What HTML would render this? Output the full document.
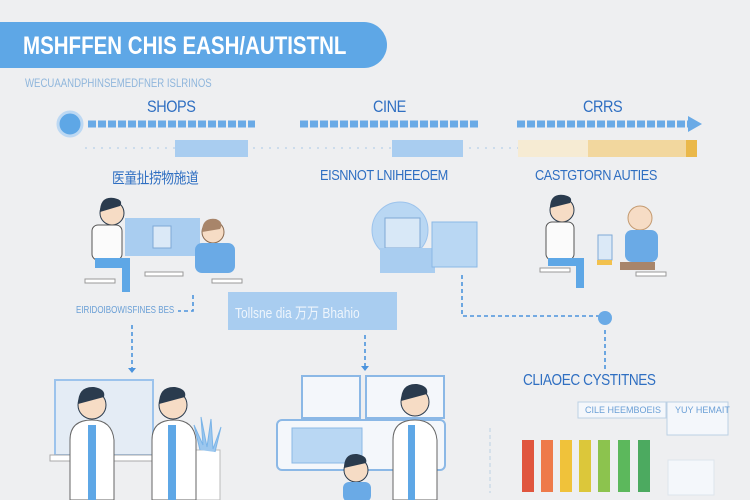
<!DOCTYPE html>
<html><head><meta charset="utf-8"><style>
body{margin:0;width:750px;height:500px;overflow:hidden;background:#eeeff1;font-family:"Liberation Sans","Noto Sans CJK SC",sans-serif;position:relative}
.a{position:absolute;white-space:nowrap}
.h{color:#2f6fc2;font-size:17px;letter-spacing:-0.5px;transform:scaleX(.85);transform-origin:left}
</style></head><body>
<div class="a" style="left:0;top:22px;width:387px;height:46px;background:#5ea7e6;border-radius:0 23px 23px 0"></div>
<div class="a" style="left:23px;top:32px;color:#fff;font-size:25px;font-weight:bold;transform:scaleX(.82);transform-origin:left">MSHFFEN CHIS EASH/AUTISTNL</div>
<div class="a" style="left:25px;top:76px;color:#8fb6dc;font-size:12px;transform:scaleX(.8);transform-origin:left">WECUAANDPHINSEMEDFNER ISLRINOS</div>
<div class="a h" style="left:147px;top:97px">SHOPS</div>
<div class="a h" style="left:373px;top:97px">CINE</div>
<div class="a h" style="left:583px;top:97px">CRRS</div>
<div class="a h" style="left:112px;top:167px;font-size:15px">医童扯捞物施道</div>
<div class="a h" style="left:320px;top:167px;font-size:15px">EISNNOT LNIHEEOEM</div>
<div class="a h" style="left:535px;top:167px;font-size:15px">CASTGTORN AUTIES</div>
<div class="a" style="left:76px;top:305px;color:#6a9fd6;font-size:10px;transform:scaleX(.8);transform-origin:left">EIRIDOIBOWISFINES BES</div>
<div class="a" style="left:228px;top:292px;width:169px;height:38px;background:#a9cdf0"></div>
<div class="a" style="left:235px;top:302px;color:#eef5fc;font-size:15px;transform:scaleX(.8);transform-origin:left">Tollsne dia 万万 Bhahio</div>
<div class="a h" style="left:523px;top:372px;font-size:16px">CLIAOEC CYSTITNES</div>
<svg class="a" style="left:0;top:0" width="750" height="500">
<g fill="none">
<circle cx="70" cy="124" r="12" fill="#5ea7e6" stroke="#bcd8f3" stroke-width="3"/>
<line x1="88" y1="124" x2="255" y2="124" stroke="#6aaae6" stroke-width="7" stroke-dasharray="8 2"/>
<line x1="300" y1="124" x2="478" y2="124" stroke="#6aaae6" stroke-width="7" stroke-dasharray="8 2"/>
<line x1="517" y1="124" x2="690" y2="124" stroke="#6aaae6" stroke-width="7" stroke-dasharray="8 2"/>
<polygon points="688,116 702,124 688,132" fill="#6aaae6"/>
<line x1="85" y1="148" x2="520" y2="148" stroke="#a9c8e8" stroke-width="1" stroke-dasharray="2 6"/>
<rect x="175" y="140" width="73" height="17" fill="#a9cdf0"/>
<rect x="392" y="140" width="71" height="17" fill="#a9cdf0"/>
<rect x="518" y="140" width="70" height="17" fill="#f6ebd3"/>
<rect x="588" y="140" width="109" height="17" fill="#f2d79e"/>
<rect x="686" y="140" width="11" height="17" fill="#eab84a"/>
<g stroke="#4b93dd" stroke-width="1.6" stroke-dasharray="4 3">
<path d="M193 295V311H178"/><path d="M132 325V370"/><path d="M365 335V368"/>
<path d="M462 275V316H600"/><path d="M605 330V372"/>
</g>
<circle cx="605" cy="318" r="7" fill="#6aaae6"/>
<path d="M128 368l4 5 4-5zM361 366l4 5 4-5z" fill="#4b93dd"/>
<!-- scene left top -->
<rect x="125" y="218" width="75" height="38" fill="#a9cdf0"/>
<rect x="153" y="226" width="18" height="22" fill="#dbe9f7" stroke="#7fa9d6"/>
<rect x="85" y="279" width="30" height="4" fill="#fff" stroke="#999"/>
<rect x="145" y="272" width="38" height="4" fill="#fff" stroke="#999"/>
<rect x="212" y="279" width="30" height="4" fill="#fff" stroke="#999"/>
<circle cx="112" cy="213" r="12" fill="#f6dcc5" stroke="#2a3b4e"/>
<path d="M100 212q0-16 14-14 10 2 6 8" fill="#2a3b4e"/>
<rect x="92" y="225" width="30" height="35" rx="6" fill="#fbfbfb" stroke="#555"/>
<rect x="95" y="258" width="35" height="10" fill="#5ea7e6"/>
<rect x="122" y="262" width="8" height="30" fill="#5ea7e6"/>
<circle cx="213" cy="232" r="11" fill="#f6dcc5" stroke="#8a6a50"/>
<path d="M202 232q0-15 14-13 8 3 4 10" fill="#a8856a"/>
<rect x="195" y="243" width="40" height="30" rx="7" fill="#6aaae6"/>
<!-- center top machine -->
<circle cx="400" cy="230" r="28" fill="#b9d7f3" stroke="#9cc3ec"/>
<rect x="385" y="218" width="35" height="30" fill="#d8e8f7" stroke="#7fa9d6"/>
<rect x="380" y="248" width="55" height="25" fill="#a9cdf0"/>
<rect x="432" y="222" width="45" height="45" fill="#b9d7f3" stroke="#8bb8e6"/>
<!-- right top scene -->
<rect x="540" y="268" width="30" height="4" fill="#fff" stroke="#999"/>
<rect x="636" y="272" width="30" height="4" fill="#fff" stroke="#999"/>
<circle cx="562" cy="210" r="12" fill="#f6dcc5" stroke="#2a3b4e"/>
<path d="M550 208q0-15 14-13 10 2 6 8" fill="#2a3b4e"/>
<rect x="546" y="222" width="28" height="38" rx="6" fill="#fbfbfb" stroke="#555"/>
<rect x="548" y="258" width="36" height="8" fill="#5ea7e6"/>
<rect x="576" y="260" width="8" height="28" fill="#5ea7e6"/>
<circle cx="640" cy="218" r="12" fill="#f6dcc5" stroke="#c49a70"/>
<rect x="625" y="230" width="33" height="32" rx="7" fill="#6aaae6"/>
<rect x="620" y="262" width="35" height="8" fill="#a8856a"/>
<rect x="598" y="235" width="14" height="25" fill="#dbe9f7" stroke="#7fa9d6"/>
<rect x="597" y="260" width="15" height="5" fill="#f2c14e"/>
<!-- bottom left -->
<rect x="55" y="380" width="98" height="75" fill="#e4ecf5" stroke="#9cc3ec" stroke-width="2"/>
<rect x="50" y="455" width="165" height="6" fill="#fff" stroke="#aaa"/>
<rect x="195" y="450" width="25" height="50" fill="#fff" stroke="#bbb"/>
<path d="M200 450l-6-25 9 20-2-28 6 30 4-28 2 30 8-22-6 25" stroke="#7ab4e8" fill="#9cc7ee"/>
<circle cx="92" cy="405" r="14" fill="#f6dcc5" stroke="#2a3b4e"/>
<path d="M78 404q0-18 16-17 12 2 10 10z" fill="#2a3b4e"/>
<path d="M70 440q0-20 22-20 20 0 22 20v60h-44z" fill="#fff" stroke="#666"/>
<rect x="88" y="425" width="8" height="75" fill="#5ea7e6"/>
<circle cx="173" cy="405" r="14" fill="#f6dcc5" stroke="#2a3b4e"/>
<path d="M159 404q0-18 16-17 12 2 10 10z" fill="#2a3b4e"/>
<path d="M152 440q0-20 22-20 20 0 22 20v60h-44z" fill="#fff" stroke="#666"/>
<rect x="168" y="425" width="8" height="75" fill="#5ea7e6"/>
<!-- bottom center -->
<rect x="302" y="376" width="58" height="42" fill="#f4f7fb" stroke="#8bb8e6" stroke-width="2"/>
<rect x="366" y="376" width="78" height="42" fill="#f4f7fb" stroke="#8bb8e6" stroke-width="2"/>
<rect x="277" y="420" width="168" height="50" rx="5" fill="#f4f7fb" stroke="#8bb8e6" stroke-width="2"/>
<rect x="292" y="428" width="70" height="35" fill="#b9d7f3" stroke="#8bb8e6"/>
<circle cx="415" cy="402" r="14" fill="#f6dcc5" stroke="#2a3b4e"/>
<path d="M401 401q0-18 16-17 12 2 10 10z" fill="#2a3b4e"/>
<path d="M393 440q0-20 22-20 20 0 22 20v60h-44z" fill="#fff" stroke="#666"/>
<rect x="408" y="425" width="7" height="75" fill="#5ea7e6"/>
<circle cx="356" cy="470" r="12" fill="#f6dcc5" stroke="#2a3b4e"/>
<path d="M344 468q0-15 13-14 11 2 9 9z" fill="#2a3b4e"/>
<rect x="343" y="482" width="28" height="20" rx="6" fill="#6aaae6"/>
<!-- bottom right -->
<rect x="578" y="402" width="88" height="16" fill="#f4f7fb" stroke="#bcd0e4"/>
<rect x="667" y="402" width="61" height="33" fill="#f4f7fb" stroke="#bcd0e4"/>
<rect x="668" y="460" width="46" height="35" fill="#f4f7fb" stroke="#dde4ec"/>
<path d="M490 428v65" stroke="#bcd0e4" stroke-dasharray="4 3"/>
<rect x="522" y="440" width="12" height="52" fill="#e0553e"/>
<rect x="541" y="440" width="12" height="52" fill="#ee7a4a"/>
<rect x="560" y="440" width="12" height="52" fill="#f0c23a"/>
<rect x="579" y="440" width="12" height="52" fill="#dcc73a"/>
<rect x="598" y="440" width="12" height="52" fill="#8cc34e"/>
<rect x="618" y="440" width="12" height="52" fill="#5cb85c"/>
<rect x="638" y="440" width="12" height="52" fill="#4caa60"/>
</g>
</svg>
<div class="a" style="left:585px;top:405px;color:#6a9fd6;font-size:9px">CILE HEEMBOEIS</div>
<div class="a" style="left:675px;top:405px;color:#6a9fd6;font-size:9px">YUY HEMAIT</div>
</body></html>
